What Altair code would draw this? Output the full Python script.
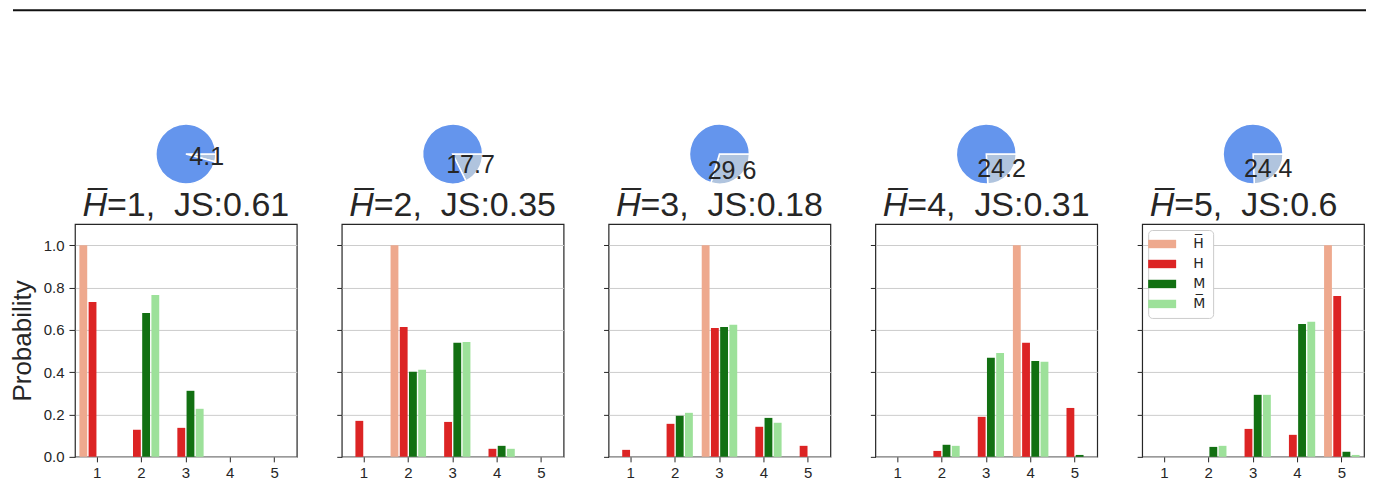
import math
import altair as alt
import pandas as pd

FONT = "Liberation Sans"
INK = "#262626"

categories = ["1", "2", "3", "4", "5"]
series_names = ["H\u0305", "H", "M", "M\u0305"]
series_colors = ["#EEA98E", "#DC2424", "#127012", "#9DE19A"]
pie_colors = ["#B0C4DE", "#6495ED"]

hbar_levels = [1, 2, 3, 4, 5]
js_scores = ["0.61", "0.35", "0.18", "0.31", "0.6"]
pie_small_pct = [4.1, 17.7, 29.6, 24.2, 24.4]

hbar_vals = [
    [1.0, 0.0, 0.0, 0.0, 0.0],
    [0.0, 1.0, 0.0, 0.0, 0.0],
    [0.0, 0.0, 1.0, 0.0, 0.0],
    [0.0, 0.0, 0.0, 1.0, 0.0],
    [0.0, 0.0, 0.0, 0.0, 1.0],
]
h_vals = [
    [0.732, 0.128, 0.137, 0.0, 0.0],
    [0.170, 0.614, 0.165, 0.038, 0.0],
    [0.033, 0.156, 0.609, 0.142, 0.052],
    [0.0, 0.028, 0.189, 0.539, 0.231],
    [0.0, 0.0, 0.132, 0.104, 0.760],
]
m_vals = [
    [0.0, 0.680, 0.312, 0.0, 0.0],
    [0.0, 0.402, 0.539, 0.052, 0.0],
    [0.0, 0.194, 0.614, 0.184, 0.0],
    [0.0, 0.057, 0.468, 0.453, 0.009],
    [0.0, 0.047, 0.293, 0.628, 0.024],
]
mbar_vals = [
    [0.0, 0.765, 0.227, 0.0, 0.0],
    [0.0, 0.411, 0.543, 0.038, 0.0],
    [0.0, 0.208, 0.624, 0.161, 0.0],
    [0.0, 0.052, 0.491, 0.449, 0.0],
    [0.0, 0.052, 0.293, 0.638, 0.009],
]

PW, PH, TOPH = 222, 233, 206


def make_column(i):
    rows = []
    for s, vals in zip(series_names, [hbar_vals[i], h_vals[i], m_vals[i], mbar_vals[i]]):
        for c, v in zip(categories, vals):
            if v > 0:
                rows.append({"cat": c, "series": s, "p": v})
    bar_df = pd.DataFrame(rows)

    if i == 0:
        yaxis = alt.Axis(title="Probability", values=[0, 0.2, 0.4, 0.6, 0.8, 1.0],
                         format=".1f", titlePadding=8, tickSize=6, labelPadding=5)
    else:
        yaxis = alt.Axis(title=None, labels=False, values=[0, 0.2, 0.4, 0.6, 0.8, 1.0],
                         tickSize=5)

    if i == 4:
        legend = alt.Legend(orient="top-left", title=None,
                            symbolType="M-2,-0.6H2V0.6H-2Z", symbolSize=196,
                            symbolStrokeWidth=0, labelFont="DejaVu Sans", labelFontSize=14,
                            labelColor=INK, rowPadding=6, padding=7,
                            strokeColor="#cccccc", cornerRadius=4, fillColor="white",
                            offset=6, labelOffset=24)
    else:
        legend = None

    bars = alt.Chart(bar_df).mark_bar().encode(
        x=alt.X("cat:N", scale=alt.Scale(domain=categories, paddingInner=0.2, paddingOuter=0.1),
                axis=alt.Axis(title=None, labelAngle=0, grid=False, labelPadding=4)),
        xOffset=alt.XOffset("series:N", scale=alt.Scale(domain=series_names, paddingInner=0.15)),
        y=alt.Y("p:Q", scale=alt.Scale(domain=[0, 1.1], nice=False), axis=yaxis),
        color=alt.Color("series:N", scale=alt.Scale(domain=series_names, range=series_colors),
                        legend=legend),
    ).properties(width=PW, height=PH)

    p = pie_small_pct[i]
    pie_df = pd.DataFrame({
        "part": ["small", "big"],
        "v": [p, 100 - p],
        "ord": [0, 1],
        "label": [f"{p}", ""],
    })
    theta = alt.Theta("v:Q", stack=True,
                      scale=alt.Scale(range=[math.pi / 2, math.pi / 2 + 2 * math.pi]))
    arc = alt.Chart(pie_df).mark_arc(outerRadius=30, stroke="white", strokeWidth=1.5).encode(
        theta=theta,
        color=alt.Color("part:N", scale=alt.Scale(domain=["small", "big"], range=pie_colors),
                        legend=None),
        order=alt.Order("ord:Q"),
        x=alt.value(PW / 2),
        y=alt.value(144),
    )
    pct = alt.Chart(pie_df).mark_text(radius=21, font=FONT, fontSize=25, color=INK).encode(
        theta=theta,
        text="label:N",
        order=alt.Order("ord:Q"),
        x=alt.value(PW / 2),
        y=alt.value(144),
    )
    title_df = pd.DataFrame({"h": ["H\u0305"],
                             "rest": [f"={hbar_levels[i]},\u00a0\u00a0JS:{js_scores[i]}"]})
    t_h = alt.Chart(title_df).mark_text(font=FONT, fontSize=34, fontStyle="italic", align="left",
                                        baseline="alphabetic", color=INK).encode(
        text="h:N", x=alt.value(7.5), y=alt.value(TOPH))
    t_r = alt.Chart(title_df).mark_text(font=FONT, fontSize=34, align="left",
                                        baseline="alphabetic", color=INK).encode(
        text="rest:N", x=alt.value(32), y=alt.value(TOPH))

    top = alt.layer(arc, pct, t_h, t_r).properties(
        width=PW, height=TOPH, view=alt.ViewBackground(stroke="transparent"))

    col = alt.vconcat(top, bars, spacing=8, bounds="flush").resolve_scale(
        color="independent").resolve_legend(color="independent")
    return col


cols = [make_column(i) for i in range(5)]

grid = alt.hconcat(*cols, spacing=37).resolve_scale(
    color="independent").resolve_legend(color="independent")

line_df = pd.DataFrame({"k": [0]})
top_line = alt.Chart(line_df).mark_rule(color="#111111", strokeWidth=2).encode(
    x=alt.value(-62), x2=alt.value(1292), y=alt.value(1)
).properties(width=1200, height=1, view=alt.ViewBackground(stroke="transparent"))

chart = alt.vconcat(top_line, grid, spacing=0, bounds="flush").resolve_scale(
    color="independent").resolve_legend(color="independent").properties(
    padding={"left": 0, "top": 0, "right": 0, "bottom": 0}
).configure_axis(
    domain=False, labelFont=FONT, labelFontSize=15, labelColor=INK, tickColor=INK,
    labelPadding=3, gridColor="#cccccc", gridWidth=1, titleFont=FONT, titleFontSize=26,
    titleFontWeight="normal", titleColor=INK,
).configure_axisX(tickSize=5).configure_view(stroke=INK, strokeWidth=1.2)

chart.save("out.html", embed_options={"renderer": "svg", "actions": False})
